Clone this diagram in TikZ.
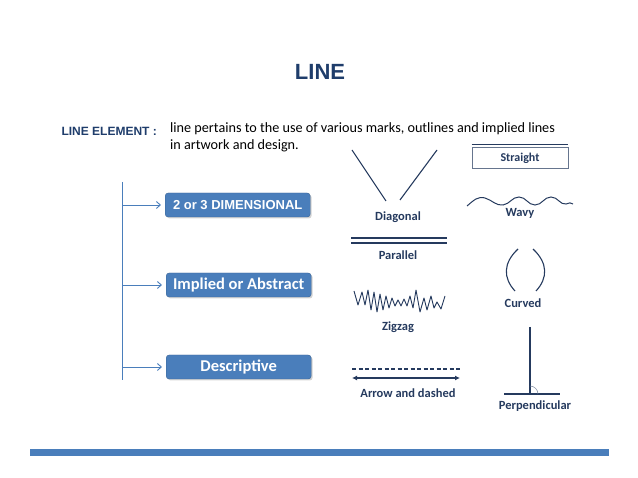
\documentclass[tikz,border=0pt]{standalone}
\usepackage{fontspec}
\setmainfont{Carlito}
\newfontfamily\arialf{Liberation Sans}
\usetikzlibrary{arrows.meta,shadows}
\definecolor{navy}{HTML}{253A5E}
\definecolor{title}{HTML}{1F3D6B}
\definecolor{boxblue}{HTML}{4A7EBB}
\tikzset{
  lbl/.style={font=\bfseries\fontsize{12.5}{14}\selectfont, text=navy},
  sym/.style={draw=navy, line width=1.1pt},
  catbox/.style={fill=boxblue, draw=boxblue!80!black, rounded corners=3pt, text=white, minimum width=145pt, minimum height=24pt, drop shadow={shadow xshift=1.5pt,shadow yshift=-1.5pt,opacity=0.35}},
  conn/.style={draw=boxblue, line width=0.9pt},
}
\begin{document}
\begin{tikzpicture}[x=1pt,y=-1pt]
\useasboundingbox (0,0) rectangle (638,478);
\node[font=\arialf\bfseries\fontsize{22}{24}\selectfont, text=title] (t) at (320,72) {LINE};
\node[anchor=west, font=\arialf\bfseries\fontsize{12}{14}\selectfont, text=title] (le) at (58,131) {LINE ELEMENT :};
\node[anchor=north west, align=left, font=\fontsize{14.2}{17}\selectfont, inner sep=0pt] (desc) at (170,122) {line pertains to the use of various marks, outlines and implied lines\\in artwork and design.};
% tree
\coordinate (top) at (122,182);
\coordinate (bot) at (122,380);
\draw[conn] (top) -- (bot);
\node[catbox, font=\arialf\bfseries\fontsize{13}{15}\selectfont, anchor=west] (b1) at (165,205) {2 or 3 DIMENSIONAL};
\node[catbox, font=\bfseries\fontsize{16.5}{18}\selectfont, anchor=west] (b2) at (166,285) {Implied or Abstract};
\node[catbox, font=\bfseries\fontsize{16.5}{18}\selectfont, anchor=west] (b3) at (166,367) {Descriptive};
\foreach \b in {b1,b2,b3}{
  \coordinate (s\b) at (top |- \b.west);
  \draw[conn,-{Straight Barb[length=4pt,width=7pt]}] (s\b) -- ([xshift=-4pt]\b.west);
}
% diagonal
\draw[sym] (352,150) -- (386,201);
\draw[sym] (400,200) -- (437,150);
\node[lbl] (ldiag) at (398,217) {Diagonal};
% straight
\node[draw=navy!70, line width=0.6pt, minimum width=96pt, minimum height=21pt, lbl, font=\bfseries\fontsize{12}{13}\selectfont] (str) at (520,158) {Straight};
\draw[sym] ([yshift=3pt]str.north west) -- ([yshift=3pt]str.north east);
% wavy
\draw[navy, line width=1pt] (467,206) .. controls (474,200) and (478,196) .. (485,198) .. controls (492,200) and (496,206) .. (503,205) .. controls (510,204) and (512,197) .. (519,197) .. controls (526,197) and (528,205) .. (535,205) .. controls (542,205) and (544,197) .. (551,197) .. controls (558,197) and (560,205) .. (566,204) .. controls (569,203) and (571,202) .. (573,204);
\node[lbl] (lwavy) at (520,213) {Wavy};
% parallel
\draw[sym] (351,238) -- (447,238);
\draw[sym] (351,243) -- (447,243);
\node[lbl] (lpar) at (398,255) {Parallel};
% curved
\draw[sym] (518,249) .. controls (503,263) and (503,278) .. (515,291);
\draw[sym] (533,249) .. controls (548,263) and (548,278) .. (536,291);
\node[lbl] (lcur) at (523,303) {Curved};
% zigzag
\draw[navy, line width=0.9pt, line join=round] (354,291) -- (358,305) -- (362,292) -- (365,305) -- (368,290) -- (371,310) -- (374,292) -- (377,312) -- (380,294) -- (383,310) -- (386,296) -- (389,308) -- (392,298) -- (395,306) -- (398,300) -- (401,306) -- (404,299) -- (407,306) -- (410,296) -- (413,308) -- (416,290) -- (420,312) -- (424,298) -- (427,310) -- (431,296) -- (434,308) -- (437,302) -- (441,309) -- (445,296);
\node[lbl] (lzig) at (398,327) {Zigzag};
% arrow and dashed
\draw[sym, dash pattern=on 4pt off 2.5pt] (352,369) -- (460,369);
\draw[sym, {Latex[length=5pt,width=5pt]}-{Latex[length=5pt,width=5pt]}] (352,378) -- (460,378);
\node[lbl] (larr) at (408,393) {Arrow and dashed};
% perpendicular
\draw[sym] (530,327) -- (530,394);
\draw[sym] (504,394) -- (560,394);
\draw[navy!60, line width=0.5pt] (538,394) arc[start angle=0, end angle=-90, radius=8];
\node[lbl] (lperp) at (535,406) {Perpendicular};
% bottom bar
\fill[boxblue] (30,449) rectangle (609,456);
\end{tikzpicture}
\end{document}
